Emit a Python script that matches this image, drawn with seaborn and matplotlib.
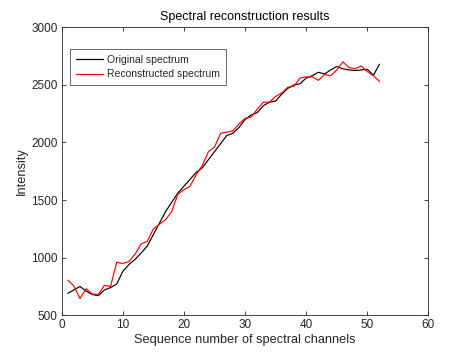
import matplotlib
matplotlib.use("Agg")
import matplotlib.pyplot as plt
import seaborn as sns
import numpy as np
import pandas as pd

channels = list(range(1, 53))
original = [690, 720, 750, 710, 680, 670, 720, 740, 770, 880,
            940, 985, 1040, 1100, 1200, 1300, 1400, 1480, 1560, 1620,
            1680, 1740, 1780, 1850, 1920, 1990, 2060, 2080, 2130, 2200,
            2240, 2260, 2320, 2350, 2360, 2420, 2470, 2500, 2510, 2560,
            2580, 2610, 2595, 2630, 2660, 2640, 2630, 2625, 2630, 2635,
            2585, 2680]
reconstructed = [805, 755, 645, 730, 685, 680, 760, 750, 960, 950,
                 965, 1030, 1120, 1140, 1250, 1290, 1330, 1400, 1550, 1590,
                 1620, 1720, 1800, 1920, 1960, 2080, 2090, 2100, 2160, 2210,
                 2220, 2290, 2350, 2350, 2400, 2430, 2480, 2490, 2560, 2570,
                 2570, 2540, 2590, 2580, 2630, 2700, 2650, 2640, 2665, 2615,
                 2580, 2530]

df = pd.DataFrame({
    "channel": channels * 2,
    "value": original + reconstructed,
    "series": ["Original spectrum"] * len(channels) + ["Reconstructed spectrum"] * len(channels),
})

sns.set_theme(style="white")
plt.rcParams["font.family"] = ["Liberation Sans", "DejaVu Sans"]

fig = plt.figure(figsize=(4.74, 3.55), dpi=100)
ax = fig.add_axes([0.13, 0.112, 0.774, 0.811])

sns.lineplot(data=df, x="channel", y="value", hue="series",
             palette={"Original spectrum": "black", "Reconstructed spectrum": "red"},
             linewidth=0.85, ax=ax)

ax.set_xlim(0, 60)
ax.set_ylim(500, 3000)
ax.set_xticks(range(0, 61, 10))
ax.set_yticks(range(500, 3001, 500))
ax.tick_params(direction="in", length=3, width=0.6, labelsize=8.5, colors="#262626",
               top=True, right=True, bottom=True, left=True, pad=3)
for sp in ax.spines.values():
    sp.set_color("#262626")
    sp.set_linewidth(0.6)

ax.set_xlabel("Sequence number of spectral channels", fontsize=9.2, color="#262626", labelpad=2)
ax.set_ylabel("Intensity", fontsize=9.2, color="#262626", labelpad=2)
ax.set_title("Spectral reconstruction results", fontsize=9, color="#000000", pad=5)

leg = ax.legend(loc="upper left", bbox_to_anchor=(0.023, 0.925), fontsize=7.5,
                frameon=True, fancybox=False, edgecolor="#262626", handlelength=2.6,
                borderpad=0.55, labelspacing=0.45, handletextpad=0.4, borderaxespad=0)
leg.get_frame().set_linewidth(0.6)
for line in leg.get_lines():
    line.set_linewidth(0.9)

fig.savefig("out.png", dpi=100)
